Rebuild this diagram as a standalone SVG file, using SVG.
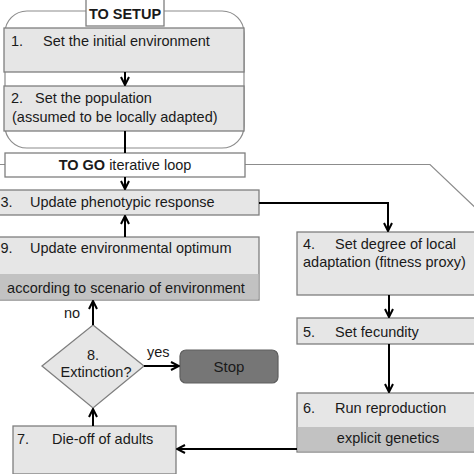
<svg xmlns="http://www.w3.org/2000/svg" width="474" height="474" viewBox="0 0 474 474">
<defs>
<style>
.box{fill:#e6e6e6;stroke:#7f7f7f;stroke-width:1.3}
.band{fill:#c2c2c2;stroke:none}
.wbox{fill:#ffffff;stroke:#7f7f7f;stroke-width:1.3}
.frame{fill:none;stroke:#8c8c8c;stroke-width:1.2}
.t{font-family:"Liberation Sans",Arial,sans-serif;font-size:14.5px;fill:#1a1a1a}
.b{font-weight:bold}
.c{text-anchor:middle}
.conn{fill:none;stroke:#000;stroke-width:2}
</style>
<marker id="ah" viewBox="0 0 10 10" refX="9" refY="5" markerWidth="5" markerHeight="5" orient="auto" markerUnits="strokeWidth">
<path d="M1,1 L9,5 L1,9" fill="none" stroke="#000" stroke-width="2"/>
</marker>
</defs>
<rect width="474" height="474" fill="#ffffff"/>

<g id="setup-frame">
<rect class="frame" x="5" y="11" width="239" height="137" rx="22"/>
</g>
<g id="loop-frame">
<path class="frame" d="M-10,164.5 L5,164.5 M245,164.5 L430,164.5 L482,214"/>
</g>

<g id="to-setup">
<rect class="wbox" x="86" y="-2" width="78" height="28"/>
<text class="t b c" x="125" y="19">TO SETUP</text>
</g>

<g id="step1">
<rect class="box" x="4" y="28" width="240" height="44"/>
<text class="t" x="11" y="46">1.</text>
<text class="t" x="43" y="46">Set the initial environment</text>
</g>

<g id="step2">
<rect class="box" x="4" y="86" width="240" height="45"/>
<text class="t" x="11" y="103">2.</text>
<text class="t" x="35" y="103">Set the population</text>
<text class="t" x="12" y="122">(assumed to be locally adapted)</text>
</g>

<g id="to-go">
<rect class="wbox" x="5" y="153" width="240" height="24"/>
<text class="t c" x="125" y="170"><tspan class="b">TO GO</tspan> iterative loop</text>
</g>

<g id="step3">
<rect class="box" x="-5" y="190" width="264" height="25"/>
<text class="t" x="0.5" y="207">3.</text>
<text class="t" x="30" y="207">Update phenotypic response</text>
</g>

<g id="step9">
<rect class="box" x="-5" y="237" width="264" height="63"/>
<rect class="band" x="-4" y="274" width="262.5" height="25.5"/>
<text class="t" x="0.5" y="253">9.</text>
<text class="t" x="30" y="253">Update environmental optimum</text>
<text class="t c" x="126" y="293">according to scenario of environment</text>
</g>

<g id="step4">
<rect class="box" x="297" y="232" width="190" height="63"/>
<text class="t" x="303" y="249">4.</text>
<text class="t" x="335" y="249">Set degree of local</text>
<text class="t" x="303" y="267">adaptation (fitness proxy)</text>
</g>

<g id="step5">
<rect class="box" x="297" y="318" width="190" height="26"/>
<text class="t" x="303" y="337">5.</text>
<text class="t" x="335" y="337">Set fecundity</text>
</g>

<g id="step6">
<rect class="box" x="297" y="393" width="190" height="59"/>
<rect class="band" x="297.7" y="427" width="190" height="24.3"/>
<text class="t" x="303" y="413">6.</text>
<text class="t" x="335" y="413">Run reproduction</text>
<text class="t c" x="388" y="443">explicit genetics</text>
</g>

<g id="step7">
<rect class="box" x="13" y="426" width="163" height="48"/>
<text class="t" x="17" y="444">7.</text>
<text class="t" x="52" y="444">Die-off of adults</text>
</g>

<g id="step8">
<polygon class="box" points="93,325 144,366 93,408 42,366"/>
<text class="t c" x="93" y="360">8.</text>
<text class="t c" x="96" y="377">Extinction?</text>
</g>

<g id="stop">
<rect x="180" y="350" width="98" height="33" rx="6" fill="#767676" stroke="#5e5e5e" stroke-width="1.2"/>
<text class="t c" x="229" y="372" style="font-size:15px">Stop</text>
</g>

<g id="connectors">
<line class="conn" x1="125" y1="72" x2="125" y2="85" marker-end="url(#ah)"/>
<line class="conn" x1="125" y1="131" x2="125" y2="153"/>
<line class="conn" x1="125" y1="177" x2="125" y2="189" marker-end="url(#ah)"/>
<line class="conn" x1="125" y1="237" x2="125" y2="216" marker-end="url(#ah)"/>
<polyline class="conn" points="259,203 388,203 388,231" marker-end="url(#ah)"/>
<line class="conn" x1="389" y1="295" x2="389" y2="317" marker-end="url(#ah)"/>
<line class="conn" x1="389" y1="344" x2="389" y2="392" marker-end="url(#ah)"/>
<line class="conn" x1="297" y1="449" x2="177" y2="449" marker-end="url(#ah)"/>
<line class="conn" x1="93" y1="426" x2="93" y2="409" marker-end="url(#ah)"/>
<line class="conn" x1="93" y1="325" x2="93" y2="301" marker-end="url(#ah)"/>
<line class="conn" x1="144" y1="366" x2="179" y2="366" marker-end="url(#ah)"/>
<text class="t" x="64" y="318">no</text>
<text class="t" x="147" y="357">yes</text>
</g>
</svg>
